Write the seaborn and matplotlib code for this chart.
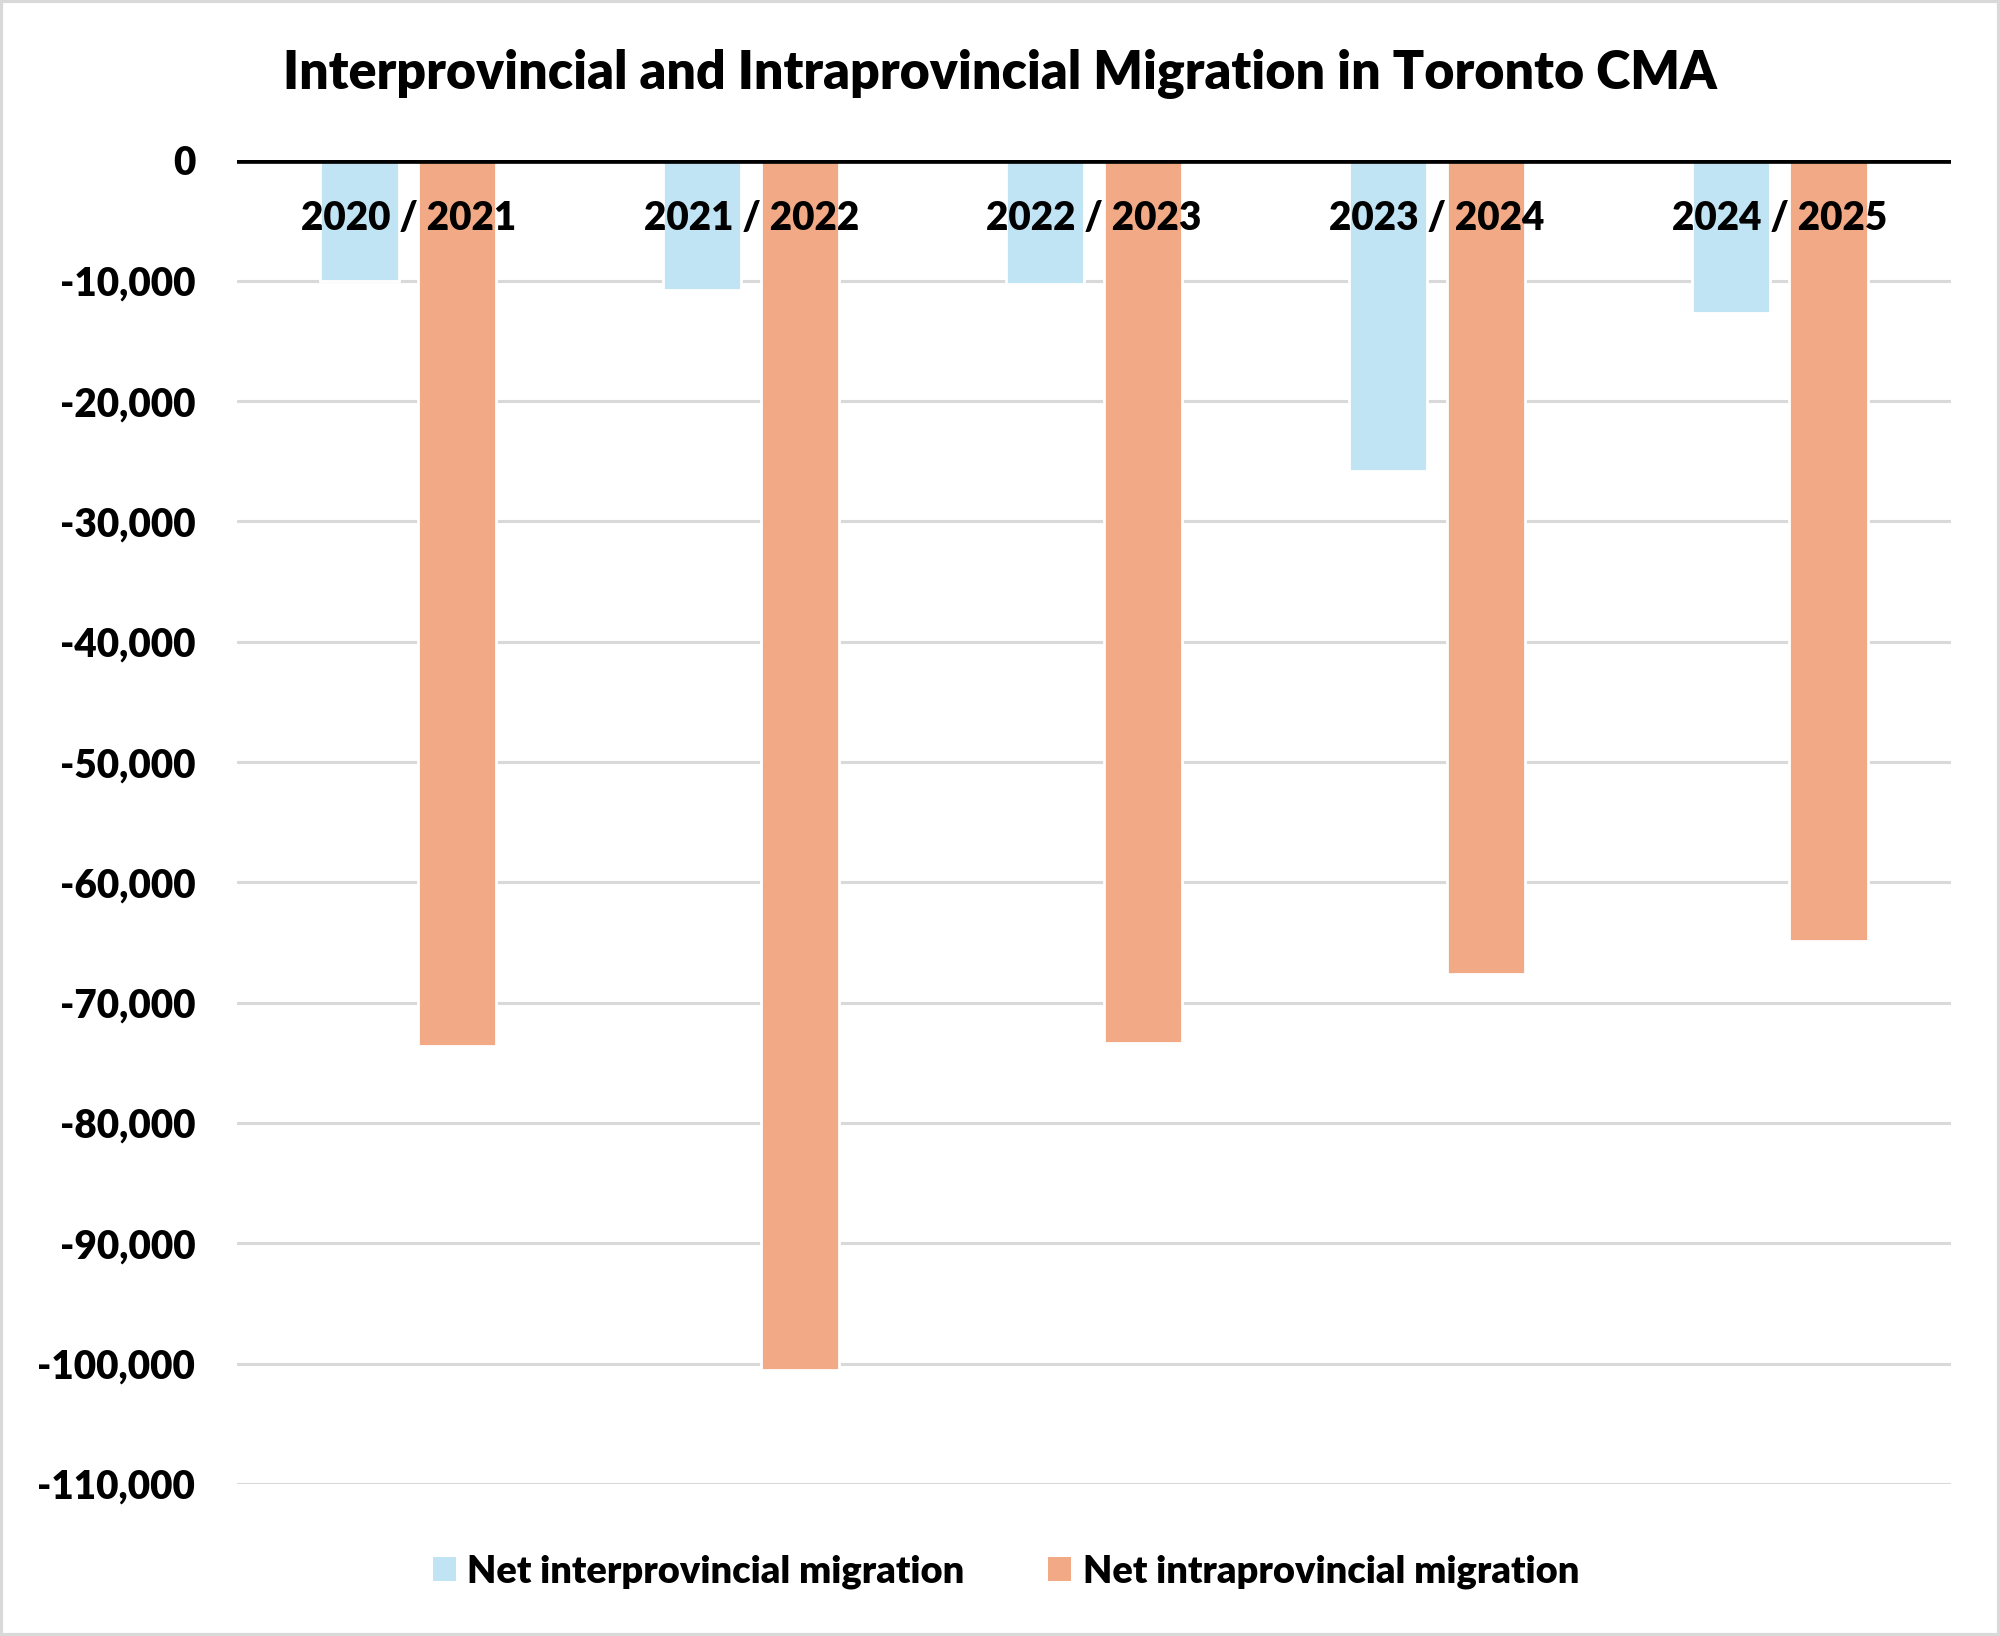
import matplotlib
matplotlib.use("Agg")
import matplotlib.pyplot as plt
import matplotlib.patches as mpatches
from matplotlib.ticker import FuncFormatter, MultipleLocator
import seaborn as sns
import pandas as pd

periods = ["2020 / 2021", "2021 / 2022", "2022 / 2023", "2023 / 2024", "2024 / 2025"]
series_names = ["Net interprovincial migration", "Net intraprovincial migration"]
interprovincial = [-10050, -10750, -10250, -25800, -12700]
intraprovincial = [-73600, -100550, -73350, -67600, -64900]
colors = ["#C1E4F5", "#F1AA85"]

df = pd.DataFrame({
    "period": periods * 2,
    "series": [series_names[0]] * len(periods) + [series_names[1]] * len(periods),
    "value": interprovincial + intraprovincial,
})

sns.set_theme(style="white")
plt.rcParams["font.family"] = ["Lato", "DejaVu Sans"]
plt.rcParams["font.weight"] = "heavy"
plt.rcParams["text.color"] = "black"
plt.rcParams["ytick.color"] = "black"

W = "heavy"
FS = 13.9

fig = plt.figure(figsize=(10, 8.18), dpi=200)
ax = fig.add_axes([0.1185, 0.0929, 0.857, 0.809])

sns.barplot(data=df, x="period", y="value", hue="series", order=periods,
            hue_order=series_names, palette=colors, width=0.57, gap=0.2,
            saturation=1, legend=False, ax=ax, errorbar=None)

ax.set_ylim(-110000, 0)
ax.set_xlim(-0.5, len(periods) - 0.5)
ax.yaxis.set_major_locator(MultipleLocator(10000))
ax.yaxis.set_major_formatter(FuncFormatter(lambda v, p: f"{v:,.0f}".replace("\u2212", "-")))
ax.grid(axis="y", color="#D9D9D9", linewidth=1.1)
ax.set_axisbelow(True)
for s in ax.spines.values():
    s.set_visible(False)
ax.axhline(0, color="black", linewidth=2.4, zorder=5)
ax.set_xlabel("")
ax.set_ylabel("")
ax.set_xticks(range(len(periods)))
ax.set_xticklabels([])
ax.tick_params(axis="x", length=0)
ax.tick_params(axis="y", length=0, pad=15, labelsize=FS, labelcolor="black")
for lab in ax.get_yticklabels():
    lab.set_fontweight(W)

for i, p in enumerate(periods):
    ax.text(i, -4780, p, ha="center", va="center", fontsize=FS,
            fontweight=W, color="black", zorder=6)

fig.suptitle("Interprovincial and Intraprovincial Migration in Toronto CMA",
             x=0.5, y=0.955, va="center", fontsize=18.7, fontweight=W, color="black")

handles = [mpatches.Patch(facecolor=c, edgecolor="none") for c in colors]
fig.legend(handles, series_names, loc="center", bbox_to_anchor=(0.503, 0.0395),
           ncol=2, frameon=False, handlelength=0.6,
           handleheight=0.6, handletextpad=0.3, columnspacing=2.2,
           prop={"weight": W, "size": 13.7}, labelcolor="black")

fig.patches.append(mpatches.Rectangle((0.0005, 0.0005), 0.999, 0.999,
                                      transform=fig.transFigure, fill=False,
                                      edgecolor="#D9D9D9", linewidth=1.5))

fig.savefig("out.png", dpi=200, facecolor="white")
